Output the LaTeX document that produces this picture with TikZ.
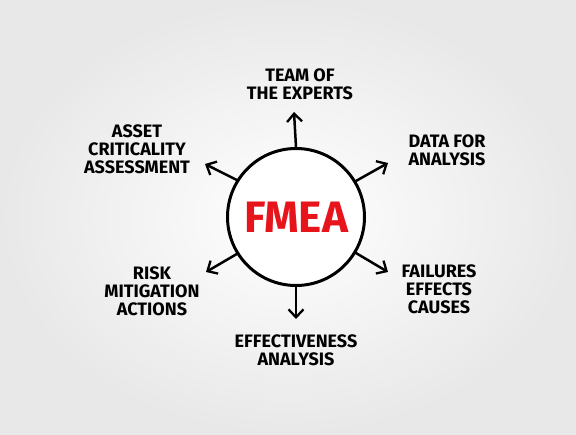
\documentclass[tikz,border=0pt]{standalone}
\usepackage{fontspec}
\setmainfont{Fira Sans}
\usetikzlibrary{arrows.meta}
\definecolor{rojofmea}{HTML}{E8141B}
\begin{document}
\begin{tikzpicture}[x = 1pt, y = -1pt,
  flecha/.style = {-{Straight Barb[length = 8pt, width = 15pt, line width = 2.3pt]}, line width = 2.5, line cap = round},
  etiqueta/.style = {align = center, font = \fontsize{18}{18}\selectfont\bfseries, inner sep = 0}
]
\useasboundingbox (0, 0) rectangle (576, 435);
\shade[inner color = white, outer color = gray!18] (0, 0) rectangle (576, 435);
% central circle
\node[circle, draw, line width = 3, minimum size = 137, fill = white, text = rojofmea, %
  font = \fontsize{44}{44}\selectfont\bfseries] (fmea) at (296, 217) {FMEA};
% labels
\node[etiqueta] (equipo) at (300, 84) {TEAM OF\\THE EXPERTS};
\node[etiqueta] (activo) at (137, 149) {ASSET\\CRITICALITY\\ASSESSMENT};
\node[etiqueta] (datos) at (447, 150) {DATA FOR\\ANALYSIS};
\node[etiqueta] (riesgo) at (152, 291) {RISK\\MITIGATION\\ACTIONS};
\node[etiqueta] (fallos) at (439, 289) {FAILURES\\EFFECTS\\CAUSES};
\node[etiqueta] (eficacia) at (296, 350) {EFFECTIVENESS\\ANALYSIS};
% arrow tips
\coordinate (p1) at (294, 112);
\coordinate (p2) at (205, 164);
\coordinate (p3) at (388, 163);
\coordinate (p4) at (206, 272);
\coordinate (p5) at (388, 272);
\coordinate (p6) at (296, 319);
\foreach \ang/\pto in {90/p1, 148/p2, 31/p3, 212/p4, -31/p5, 270/p6}{
  \draw[flecha] (fmea.\ang) -- (\pto);
}
\end{tikzpicture}
\end{document}
